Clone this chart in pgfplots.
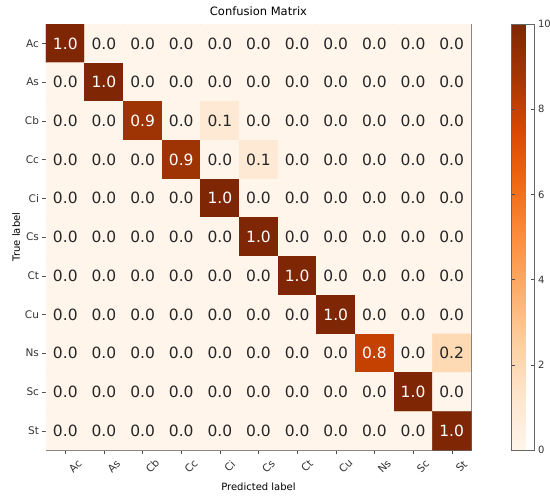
\documentclass[border=0pt]{standalone}
\usepackage{pgfplots}
\pgfplotsset{compat=1.18}
\usepackage{pgfplotstable}
\usepackage{fontspec}
\setmainfont{DejaVu Sans}

% x = predicted class, y = true class, v = normalised value
\pgfplotstableread{
x y v
0 0 1.0
1 0 0.0
2 0 0.0
3 0 0.0
4 0 0.0
5 0 0.0
6 0 0.0
7 0 0.0
8 0 0.0
9 0 0.0
10 0 0.0
0 1 0.0
1 1 1.0
2 1 0.0
3 1 0.0
4 1 0.0
5 1 0.0
6 1 0.0
7 1 0.0
8 1 0.0
9 1 0.0
10 1 0.0
0 2 0.0
1 2 0.0
2 2 0.9
3 2 0.0
4 2 0.1
5 2 0.0
6 2 0.0
7 2 0.0
8 2 0.0
9 2 0.0
10 2 0.0
0 3 0.0
1 3 0.0
2 3 0.0
3 3 0.9
4 3 0.0
5 3 0.1
6 3 0.0
7 3 0.0
8 3 0.0
9 3 0.0
10 3 0.0
0 4 0.0
1 4 0.0
2 4 0.0
3 4 0.0
4 4 1.0
5 4 0.0
6 4 0.0
7 4 0.0
8 4 0.0
9 4 0.0
10 4 0.0
0 5 0.0
1 5 0.0
2 5 0.0
3 5 0.0
4 5 0.0
5 5 1.0
6 5 0.0
7 5 0.0
8 5 0.0
9 5 0.0
10 5 0.0
0 6 0.0
1 6 0.0
2 6 0.0
3 6 0.0
4 6 0.0
5 6 0.0
6 6 1.0
7 6 0.0
8 6 0.0
9 6 0.0
10 6 0.0
0 7 0.0
1 7 0.0
2 7 0.0
3 7 0.0
4 7 0.0
5 7 0.0
6 7 0.0
7 7 1.0
8 7 0.0
9 7 0.0
10 7 0.0
0 8 0.0
1 8 0.0
2 8 0.0
3 8 0.0
4 8 0.0
5 8 0.0
6 8 0.0
7 8 0.0
8 8 0.8
9 8 0.0
10 8 0.2
0 9 0.0
1 9 0.0
2 9 0.0
3 9 0.0
4 9 0.0
5 9 0.0
6 9 0.0
7 9 0.0
8 9 0.0
9 9 1.0
10 9 0.0
0 10 0.0
1 10 0.0
2 10 0.0
3 10 0.0
4 10 0.0
5 10 0.0
6 10 0.0
7 10 0.0
8 10 0.0
9 10 0.0
10 10 1.0
}\cm

\begin{document}
\begin{tikzpicture}
\begin{axis}[
	at={(0,0)}, anchor=south west,
	scale only axis,
	width=425pt, height=426pt,
	xmin=-0.5, xmax=10.5, ymin=-0.5, ymax=10.5,
	y dir=reverse,
	enlargelimits=false,
	axis line style={black!60},
	/pgf/number format/assume math mode=true,
	colormap={oranges}{rgb255=(255,245,235) rgb255=(254,230,206) rgb255=(253,208,162) rgb255=(253,174,107) rgb255=(253,141,60) rgb255=(241,105,19) rgb255=(217,72,1) rgb255=(166,54,3) rgb255=(127,39,4)},
	point meta min=0, point meta max=10,
	xtick={0,...,10}, ytick={0,...,10},
	xticklabels={Ac,As,Cb,Cc,Ci,Cs,Ct,Cu,Ns,Sc,St},
	yticklabels={Ac,As,Cb,Cc,Ci,Cs,Ct,Cu,Ns,Sc,St},
	xtick pos=bottom, ytick pos=left,
	tick align=outside, major tick length=3.5pt,
	tick style={black!70},
	ticklabel style={font=\fontsize{10.5}{12}\selectfont, text=black!80},
	xticklabel style={rotate=45, anchor=center, yshift=-16pt, xshift=-2pt},
	title={Confusion Matrix},
	title style={font=\fontsize{11.5}{13}\selectfont, yshift=-1pt},
	xlabel={Predicted label}, ylabel={True label},
	label style={font=\fontsize{10}{12}\selectfont},
	xlabel style={yshift=-1pt},
	ylabel style={yshift=-2pt},
	colorbar,
	every colorbar/.append style={
		at={(parent axis.north east)}, anchor=north west, xshift=32pt,
		width=23pt,
		ytick={0,2,...,10},
		axis line style={black!60},
		/pgf/number format/assume math mode=true,
		every tick label/.append style={font=\fontsize{10}{12}\selectfont, text=black!80},
		major tick length=3.5pt,
		tick style={black!70},
	},
]
\addplot[matrix plot*, mesh/cols=11, point meta=explicit] table[meta expr=10*\thisrow{v}] {\cm};
\addplot[only marks, mark=none, point meta=explicit,
	visualization depends on={\thisrow{v} \as \val},
	nodes near coords={\pgfmathparse{\val>0.5}\ifnum\pgfmathresult=1 \color{white}\else\color{black!85}\fi\pgfmathprintnumber[fixed,fixed zerofill,precision=1,assume math mode=true]{\val}},
	nodes near coords style={anchor=center, font=\fontsize{15.5}{18}\selectfont},
] table[meta expr=10*\thisrow{v}] {\cm};
\end{axis}
\pgfresetboundingbox
\path[use as bounding box] (-46pt,-49pt) rectangle (504pt,450pt);
\end{tikzpicture}
\end{document}
